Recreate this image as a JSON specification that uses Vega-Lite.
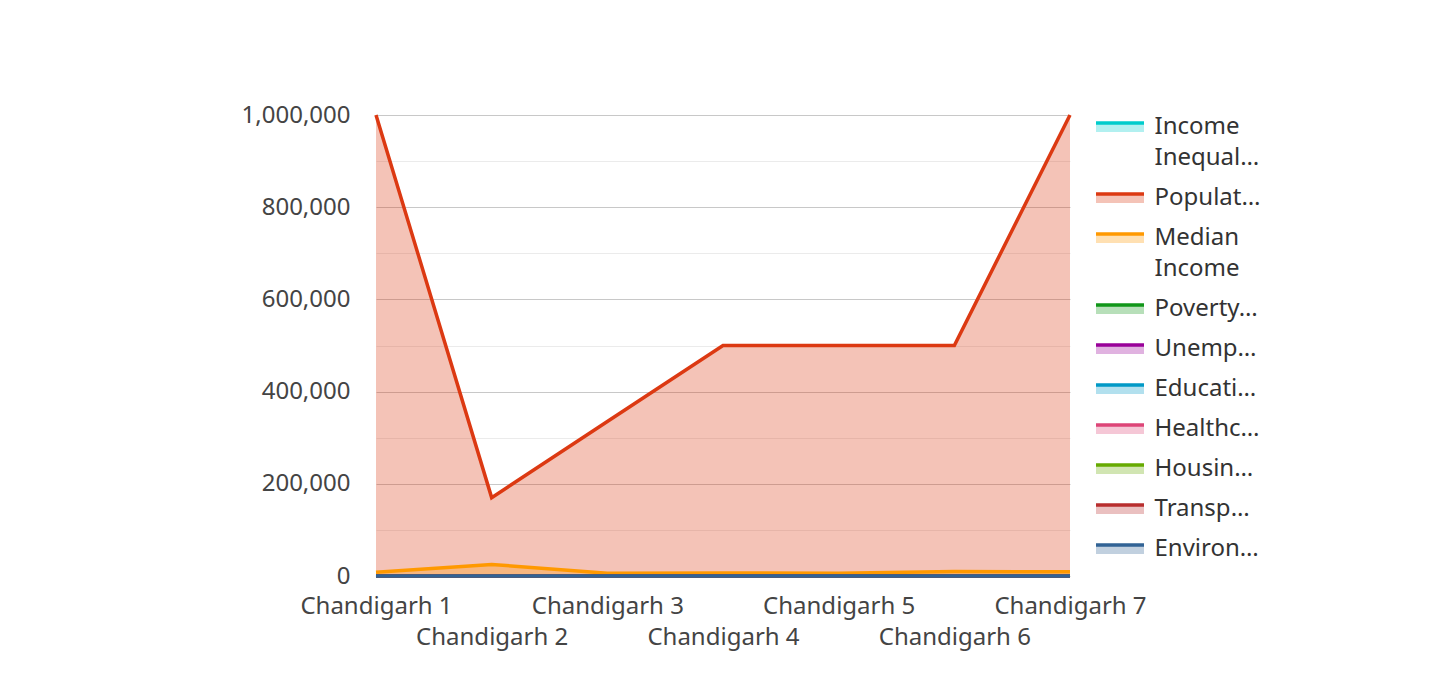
{
  "$schema": "https://vega.github.io/schema/vega-lite/v6.json",
  "width": 694,
  "height": 461,
  "autosize": {"type": "none"},
  "padding": {"left": 376, "top": 115, "right": 372, "bottom": 117},
  "background": "white",
  "config": {"font": "Noto Sans", "view": {"stroke": null}},
  "data": {"values": [
    {"city": "Chandigarh 1", "series": "Income Inequality", "value": 0.35},
    {"city": "Chandigarh 2", "series": "Income Inequality", "value": 0.42},
    {"city": "Chandigarh 3", "series": "Income Inequality", "value": 0.38},
    {"city": "Chandigarh 4", "series": "Income Inequality", "value": 0.4},
    {"city": "Chandigarh 5", "series": "Income Inequality", "value": 0.37},
    {"city": "Chandigarh 6", "series": "Income Inequality", "value": 0.45},
    {"city": "Chandigarh 7", "series": "Income Inequality", "value": 0.36},
    {"city": "Chandigarh 1", "series": "Population", "value": 1000000},
    {"city": "Chandigarh 2", "series": "Population", "value": 170000},
    {"city": "Chandigarh 3", "series": "Population", "value": 335000},
    {"city": "Chandigarh 4", "series": "Population", "value": 500000},
    {"city": "Chandigarh 5", "series": "Population", "value": 500000},
    {"city": "Chandigarh 6", "series": "Population", "value": 500000},
    {"city": "Chandigarh 7", "series": "Population", "value": 1000000},
    {"city": "Chandigarh 1", "series": "Median Income", "value": 8000},
    {"city": "Chandigarh 2", "series": "Median Income", "value": 25000},
    {"city": "Chandigarh 3", "series": "Median Income", "value": 6000},
    {"city": "Chandigarh 4", "series": "Median Income", "value": 6500},
    {"city": "Chandigarh 5", "series": "Median Income", "value": 6000},
    {"city": "Chandigarh 6", "series": "Median Income", "value": 10000},
    {"city": "Chandigarh 7", "series": "Median Income", "value": 9000},
    {"city": "Chandigarh 1", "series": "Poverty Rate", "value": 12},
    {"city": "Chandigarh 2", "series": "Poverty Rate", "value": 18},
    {"city": "Chandigarh 3", "series": "Poverty Rate", "value": 15},
    {"city": "Chandigarh 4", "series": "Poverty Rate", "value": 10},
    {"city": "Chandigarh 5", "series": "Poverty Rate", "value": 14},
    {"city": "Chandigarh 6", "series": "Poverty Rate", "value": 11},
    {"city": "Chandigarh 7", "series": "Poverty Rate", "value": 13},
    {"city": "Chandigarh 1", "series": "Unemployment Rate", "value": 6},
    {"city": "Chandigarh 2", "series": "Unemployment Rate", "value": 8},
    {"city": "Chandigarh 3", "series": "Unemployment Rate", "value": 7},
    {"city": "Chandigarh 4", "series": "Unemployment Rate", "value": 5},
    {"city": "Chandigarh 5", "series": "Unemployment Rate", "value": 9},
    {"city": "Chandigarh 6", "series": "Unemployment Rate", "value": 6},
    {"city": "Chandigarh 7", "series": "Unemployment Rate", "value": 7},
    {"city": "Chandigarh 1", "series": "Education Level", "value": 85},
    {"city": "Chandigarh 2", "series": "Education Level", "value": 78},
    {"city": "Chandigarh 3", "series": "Education Level", "value": 82},
    {"city": "Chandigarh 4", "series": "Education Level", "value": 88},
    {"city": "Chandigarh 5", "series": "Education Level", "value": 80},
    {"city": "Chandigarh 6", "series": "Education Level", "value": 84},
    {"city": "Chandigarh 7", "series": "Education Level", "value": 86},
    {"city": "Chandigarh 1", "series": "Healthcare Access", "value": 75},
    {"city": "Chandigarh 2", "series": "Healthcare Access", "value": 70},
    {"city": "Chandigarh 3", "series": "Healthcare Access", "value": 72},
    {"city": "Chandigarh 4", "series": "Healthcare Access", "value": 78},
    {"city": "Chandigarh 5", "series": "Healthcare Access", "value": 74},
    {"city": "Chandigarh 6", "series": "Healthcare Access", "value": 76},
    {"city": "Chandigarh 7", "series": "Healthcare Access", "value": 73},
    {"city": "Chandigarh 1", "series": "Housing Affordability", "value": 60},
    {"city": "Chandigarh 2", "series": "Housing Affordability", "value": 55},
    {"city": "Chandigarh 3", "series": "Housing Affordability", "value": 58},
    {"city": "Chandigarh 4", "series": "Housing Affordability", "value": 62},
    {"city": "Chandigarh 5", "series": "Housing Affordability", "value": 57},
    {"city": "Chandigarh 6", "series": "Housing Affordability", "value": 61},
    {"city": "Chandigarh 7", "series": "Housing Affordability", "value": 59},
    {"city": "Chandigarh 1", "series": "Transportation", "value": 65},
    {"city": "Chandigarh 2", "series": "Transportation", "value": 60},
    {"city": "Chandigarh 3", "series": "Transportation", "value": 63},
    {"city": "Chandigarh 4", "series": "Transportation", "value": 68},
    {"city": "Chandigarh 5", "series": "Transportation", "value": 62},
    {"city": "Chandigarh 6", "series": "Transportation", "value": 66},
    {"city": "Chandigarh 7", "series": "Transportation", "value": 64},
    {"city": "Chandigarh 1", "series": "Environmental Quality", "value": 70},
    {"city": "Chandigarh 2", "series": "Environmental Quality", "value": 65},
    {"city": "Chandigarh 3", "series": "Environmental Quality", "value": 68},
    {"city": "Chandigarh 4", "series": "Environmental Quality", "value": 72},
    {"city": "Chandigarh 5", "series": "Environmental Quality", "value": 66},
    {"city": "Chandigarh 6", "series": "Environmental Quality", "value": 71},
    {"city": "Chandigarh 7", "series": "Environmental Quality", "value": 69}
  ]},
  "encoding": {
    "x": {
      "field": "city", "type": "ordinal",
      "scale": {"type": "point", "padding": 0},
      "axis": {
        "title": null, "domain": false, "ticks": false, "tickSize": 0, "grid": false,
        "labelAngle": 0, "labelOverlap": false, "labelFontSize": 24, "labelColor": "#444444",
        "labelPadding": 18, "labelLineHeight": 31,
        "labelExpr": "indexof(domain('x'), datum.value) % 2 == 1 ? ['', datum.label] : datum.label"
      }
    },
    "y": {
      "field": "value", "type": "quantitative", "stack": null,
      "scale": {"domain": [0, 1000000], "nice": false},
      "axis": {
        "title": null, "domain": false, "ticks": false, "tickSize": 0,
        "values": [0, 100000, 200000, 300000, 400000, 500000, 600000, 700000, 800000, 900000, 1000000],
        "labelExpr": "datum.value % 200000 == 0 ? format(datum.value, ',') : ''",
        "labelFontSize": 24, "labelColor": "#444444", "labelPadding": 26,
        "gridColor": {"condition": {"test": "datum.value % 200000 == 0", "value": "#c8c8c8"}, "value": "#ebebeb"}
      }
    }
  },
  "layer": [
    {
      "mark": {"type": "area", "opacity": 0.3},
      "encoding": {
        "fill": {
          "field": "series", "type": "nominal",
          "scale": {
            "domain": ["Environmental Quality", "Transportation", "Housing Affordability", "Healthcare Access", "Education Level", "Unemployment Rate", "Poverty Rate", "Median Income", "Population", "Income Inequality"],
            "range": ["#316395", "#b82e2e", "#66aa00", "#dd4477", "#0099c6", "#990099", "#109618", "#ff9900", "#dc3912", "#00cccc"]
          },
          "legend": null
        }
      }
    },
    {
      "mark": {"type": "line", "strokeWidth": 3.5},
      "encoding": {
        "stroke": {
          "field": "series", "type": "nominal",
          "scale": {
            "domain": ["Income Inequality", "Population", "Median Income", "Poverty Rate", "Unemployment Rate", "Education Level", "Healthcare Access", "Housing Affordability", "Transportation", "Environmental Quality"],
            "range": ["#00cccc", "#dc3912", "#ff9900", "#109618", "#990099", "#0099c6", "#dd4477", "#66aa00", "#b82e2e", "#316395"]
          },
          "legend": {
            "orient": "none", "legendX": 732, "legendY": 0, "title": null,
            "symbolType": "M-12,-2H12V2.5H-12Z", "symbolSize": 16, "symbolStrokeWidth": 3.5,
            "labelColor": "#333333", "labelFontSize": 24, "labelOffset": 22.5, "rowPadding": 16, "labelLimit": 0,
            "labelExpr": "datum.label == 'Income Inequality' ? ['Income', 'Inequal…'] : datum.label == 'Population' ? 'Populat…' : datum.label == 'Median Income' ? ['Median', 'Income'] : datum.label == 'Poverty Rate' ? 'Poverty…' : datum.label == 'Unemployment Rate' ? 'Unemp…' : datum.label == 'Education Level' ? 'Educati…' : datum.label == 'Healthcare Access' ? 'Healthc…' : datum.label == 'Housing Affordability' ? 'Housin…' : datum.label == 'Transportation' ? 'Transp…' : 'Environ…'",
            "encode": {
              "symbols": {"update": {
                "fill": {"scale": "stroke", "field": "value"},
                "fillOpacity": {"value": 0.3},
                "strokeOpacity": {"value": 1},
                "strokeDash": {"value": [48, 500]}
              }},
              "labels": {"update": {"lineHeight": {"value": 31}}}
            }
          }
        }
      }
    }
  ]
}
